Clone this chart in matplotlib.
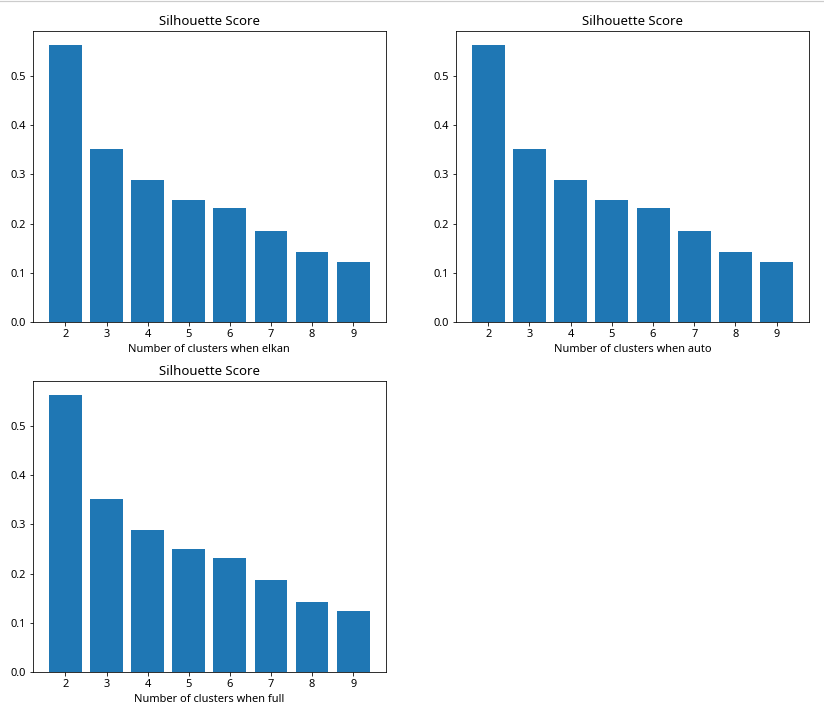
import matplotlib
matplotlib.use("Agg")
import matplotlib.pyplot as plt
from matplotlib.lines import Line2D

plt.rcParams['font.family'] = ['Noto Sans', 'DejaVu Sans']
plt.rcParams['axes.unicode_minus'] = False

# cluster counts and silhouette scores (same for each algorithm)
n_clusters = [2, 3, 4, 5, 6, 7, 8, 9]
score_elkan = [0.563, 0.352, 0.289, 0.249, 0.231, 0.186, 0.142, 0.123]
score_auto = [0.563, 0.352, 0.289, 0.249, 0.231, 0.186, 0.142, 0.123]
score_full = [0.563, 0.352, 0.289, 0.249, 0.231, 0.186, 0.142, 0.123]
algorithms = ['elkan', 'auto', 'full']

fig = plt.figure(figsize=(824 / 72, 713 / 72), dpi=72)
positions = [
    [0.040, 0.548, 0.428, 0.4085],
    [0.553, 0.548, 0.429, 0.4085],
    [0.040, 0.0575, 0.428, 0.4081],
]

for pos, algo, scores in zip(positions, algorithms, [score_elkan, score_auto, score_full]):
    ax = fig.add_axes(pos)
    ax.bar(n_clusters, scores, color='#1f77b4')
    ax.set_title('Silhouette Score', fontsize=13.2)
    ax.set_xlabel('Number of clusters when ' + algo, fontsize=11)
    ax.set_xticks(n_clusters)
    ax.tick_params(labelsize=11)

# thin gray border line at the very top of the image
fig.add_artist(Line2D([0, 1], [0.999, 0.999], color='#cccccc', lw=1.2,
                      transform=fig.transFigure))

fig.savefig('out.png', dpi=72)
